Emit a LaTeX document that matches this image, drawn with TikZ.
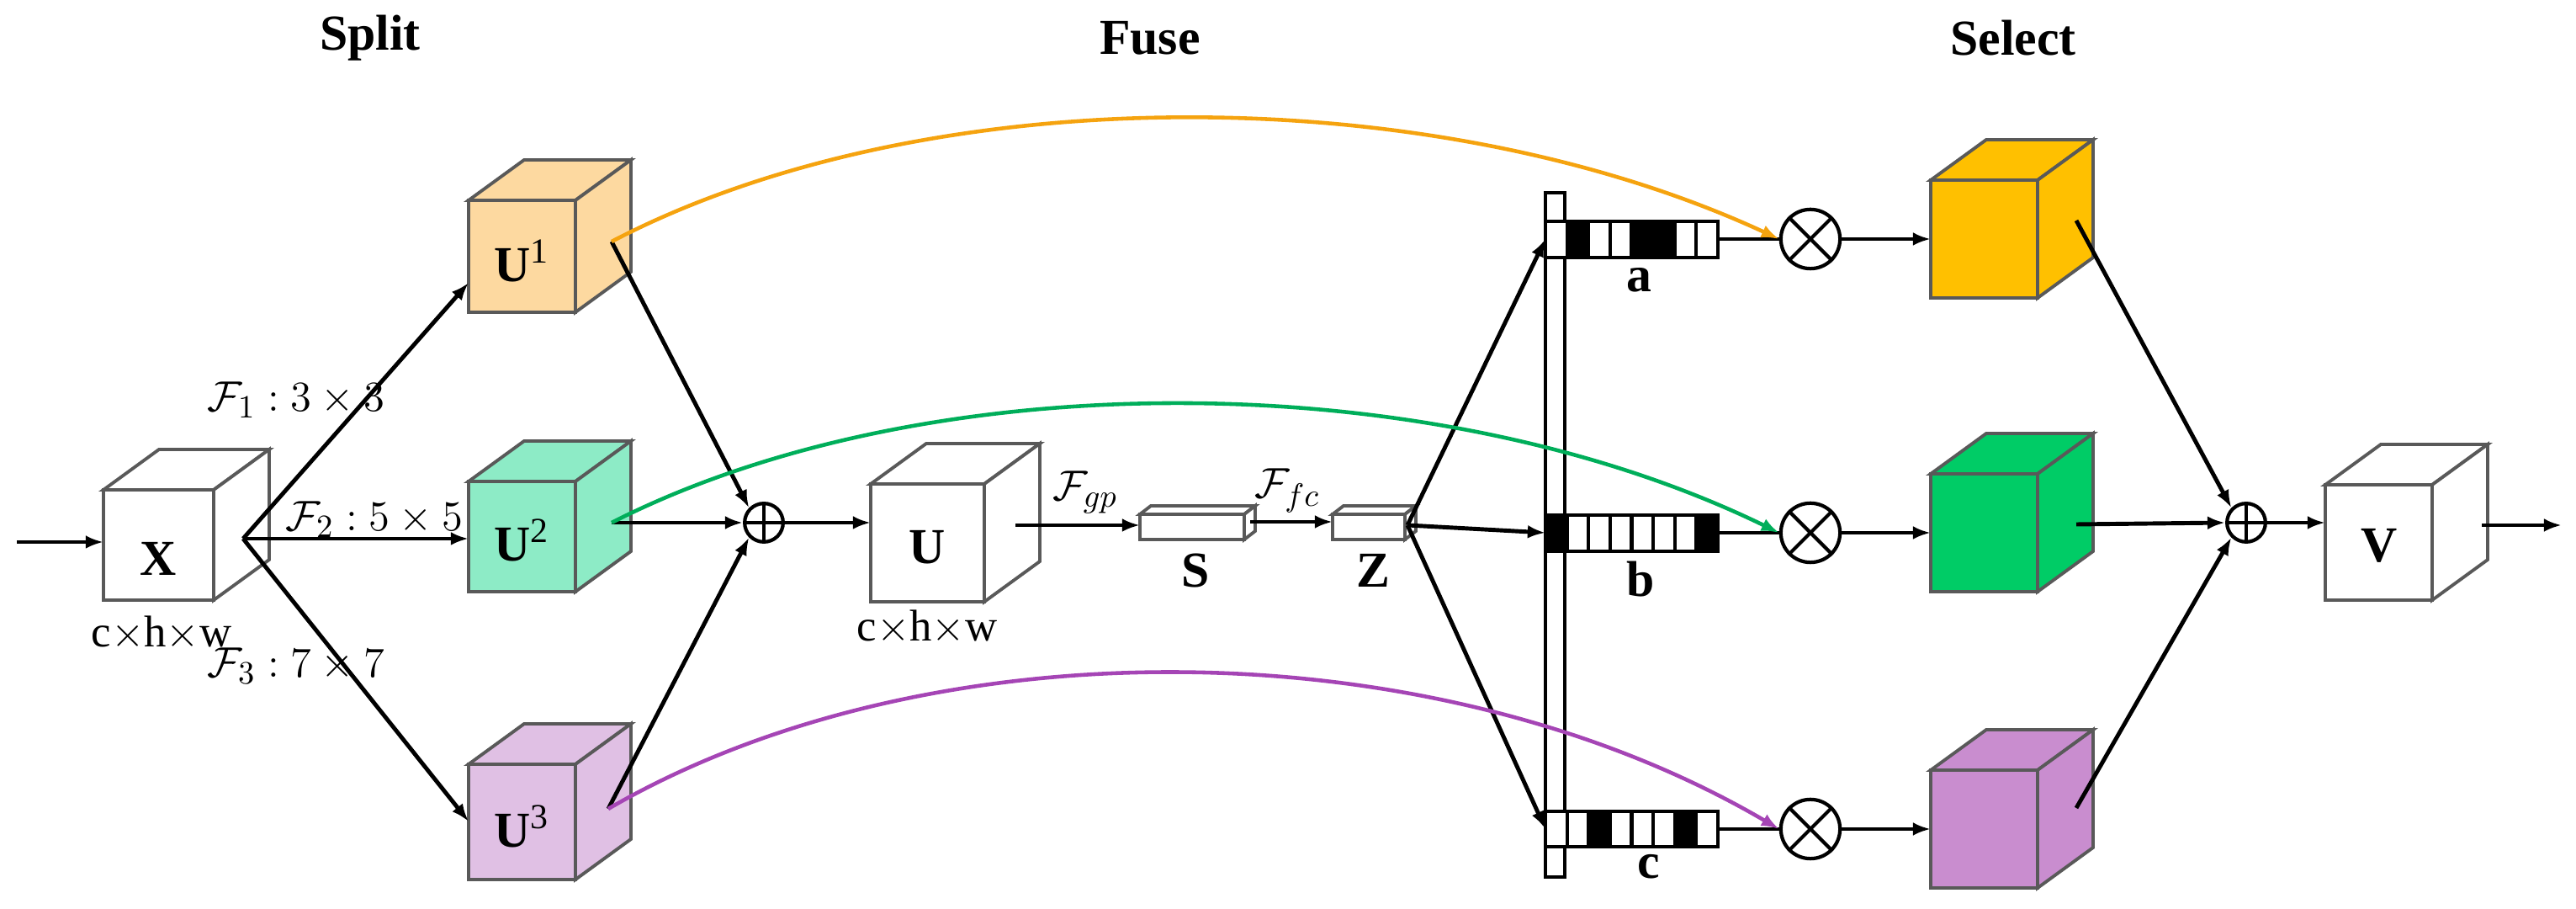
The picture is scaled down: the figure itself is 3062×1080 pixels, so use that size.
\documentclass[tikz,border=0pt]{standalone}
\usepackage{fontspec}
\setmainfont{Liberation Serif}
\usetikzlibrary{arrows.meta}
\definecolor{edge}{HTML}{595959}
\definecolor{cOr}{HTML}{F5A30F}
\definecolor{cGr}{HTML}{00AE5A}
\definecolor{cPu}{HTML}{A545B5}
\definecolor{fOr}{HTML}{FDD9A0}
\definecolor{fGr}{HTML}{8DEBC6}
\definecolor{fPu}{HTML}{E0C0E4}
\definecolor{sOr}{HTML}{FFC000}
\definecolor{sGr}{HTML}{00CC66}
\definecolor{sPu}{HTML}{C98DCF}
\newcommand\mycube[5]{%
  \draw[cubeedge,fill=#5] (#1,#2) rectangle (#3,#4);
  \draw[cubeedge,fill=#5] (#1,#2) -- ++(66,-48) -- ({#3+66},{#2-48}) -- (#3,#2) -- cycle;
  \draw[cubeedge,fill=#5] (#3,#2) -- ({#3+66},{#2-48}) -- ({#3+66},{#4-48}) -- (#3,#4) -- cycle;}
\newcommand\mybar[4]{%
  \draw[cubeedge,fill=white] (#1,#2) rectangle (#3,#4);
  \draw[cubeedge,fill=white] (#1,#2) -- ++(13,-10) -- ({#3+13},{#2-10}) -- (#3,#2) -- cycle;
  \draw[cubeedge,fill=white] (#3,#2) -- ({#3+13},{#2-10}) -- ({#3+13},{#4-10}) -- (#3,#4) -- cycle;}
\newcommand\myvec[3]{%
  \foreach \cc [count=\i from 0] in {#3} {
    \draw[line width=1.2pt,fill=\cc] ({1837+25.6*\i},{#1}) rectangle ({1837+25.6*(\i+1)},{#2});}}
\newcommand\mysup[1]{\textsuperscript{\normalfont #1}}
\begin{document}
\begin{tikzpicture}[x=0.01cm,y=-0.01cm,
  cubeedge/.style={draw=edge,line width=1.1pt,line join=miter},
  arr/.style={line width=1.4pt,-{Latex[length=6pt,width=4.5pt]}},
  ln/.style={line width=1.4pt},
  carr/.style={line width=1.3pt,-{Latex[length=6pt,width=4.5pt]}},
  sumc/.style={circle,draw,line width=1.2pt,minimum size=13pt,inner sep=0pt},
  mulc/.style={circle,draw,line width=1.2pt,minimum size=20pt,inner sep=0pt},
  ttl/.style={font=\bfseries\fontsize{17}{20}\selectfont},
  lbl/.style={font=\fontsize{15}{18}\selectfont},
  cl/.style={font=\bfseries\fontsize{17}{20}\selectfont}]
\useasboundingbox (0,0) rectangle (3062,1080);
% titles
\node[ttl] (t1) at (440,45) {Split};
\node[ttl] (t2) at (1367,45) {Fuse};
\node[ttl] (t3) at (2393,45) {Select};
% X cube
\mycube{123}{582}{254}{713}{white}
\node[cl] (X) at (188,664) {X};
\node[lbl] (xdim) at (192,752) {c$\times$h$\times$w};
\coordinate (in0) at (20,644); \coordinate (xin) at (123,644);
\coordinate (sp) at (289,640);
\draw[arr] (in0) -- (xin);
% U cubes
\mycube{557}{238}{684}{371}{fOr}
\mycube{557}{572}{684}{703}{fGr}
\mycube{557}{908}{684}{1045}{fPu}
\node[cl] (U1) at (620,310) {U\mysup{1}};
\node[cl] (U2) at (620,642) {U\mysup{2}};
\node[cl] (U3) at (620,982) {U\mysup{3}};
\coordinate (u1i) at (557,336); \coordinate (u2i) at (557,640); \coordinate (u3i) at (557,976);
\draw[arr] (sp) -- (u1i);
\draw[arr] (sp) -- (u2i);
\draw[arr] (sp) -- (u3i);
\node[lbl] (f1) at (352,475) {$\mathcal{F}_{1}:3\times 3$};
\node[lbl] (f2) at (445,617) {$\mathcal{F}_{2}:5\times 5$};
\node[lbl] (f3) at (352,791) {$\mathcal{F}_{3}:7\times 7$};
\coordinate (u1o) at (727,287); \coordinate (u2o) at (727,621); \coordinate (u3o) at (723,961);
% sum 1
\node[sumc] (s1) at (908,621) {};
\draw[line width=1.2pt] (s1.north) -- (s1.south) (s1.west) -- (s1.east);
\draw[arr] (u1o) -- (s1.north west);
\draw[arr] (u2o) -- (s1.west);
\draw[arr] (u3o) -- (s1.south west);
% U cube
\mycube{1035}{575}{1170}{715}{white}
\node[cl] (U) at (1102,650) {U};
\node[lbl] (udim) at (1102,745) {c$\times$h$\times$w};
\coordinate (ui) at (1035,621);
\draw[arr] (s1.east) -- (ui);
% S and Z
\mybar{1355}{611}{1479}{641}
\mybar{1584}{611}{1670}{641}
\node[cl] (S) at (1421,678) {S};
\node[cl] (Z) at (1632,678) {Z};
\coordinate (uo) at (1207,624); \coordinate (si) at (1355,624);
\coordinate (so) at (1486,620); \coordinate (zi) at (1584,620);
\draw[arr] (uo) -- (si);
\draw[arr] (so) -- (zi);
\node[lbl] (fgp) at (1290,585) {$\mathcal{F}_{gp}$};
\node[lbl] (ffc) at (1530,583) {$\mathcal{F}_{fc}$};
\coordinate (zo) at (1673,624);
% vertical bar and vectors
\draw[line width=1.2pt,fill=white] (1837,229) rectangle (1860,1042);
\myvec{263}{306}{white,black,white,white,black,black,white,white}
\myvec{612}{655}{black,white,white,white,white,white,white,black}
\myvec{964}{1006}{white,white,black,white,white,white,black,white}
\node[cl] (a) at (1948,333) {a};
\node[cl] (b) at (1950,688) {b};
\node[cl] (c) at (1960,1030) {c};
\coordinate (ai) at (1837,284); \coordinate (bi) at (1837,633); \coordinate (ci) at (1837,985);
\coordinate (ao) at (2042,284); \coordinate (bo) at (2042,633); \coordinate (co) at (2042,985);
\draw[arr] (zo) -- (ai);
\draw[arr] (zo) -- (bi);
\draw[arr] (zo) -- (ci);
% otimes
\foreach \n/\yy in {ma/284,mb/633,mc/985}{
  \node[mulc] (\n) at (2152,\yy) {};
  \draw[line width=1.2pt] (\n.north west) -- (\n.south east) (\n.north east) -- (\n.south west);}
\draw[ln] (ao) -- (ma.west);
\draw[ln] (bo) -- (mb.west);
\draw[ln] (co) -- (mc.west);
% colored curves
\draw[carr,cOr] (u1o) .. controls (1100,92) and (1700,92) .. (ma.west);
\draw[carr,cGr] (u2o) .. controls (1100,431) and (1700,431) .. (mb.west);
\draw[carr,cPu] (u3o) .. controls (1100,742) and (1700,742) .. (mc.west);
% select cubes
\mycube{2295}{214}{2422}{354}{sOr}
\mycube{2295}{563}{2422}{703}{sGr}
\mycube{2295}{915}{2422}{1055}{sPu}
\coordinate (y1i) at (2295,284); \coordinate (y2i) at (2295,633); \coordinate (y3i) at (2295,985);
\draw[arr] (ma.east) -- (y1i);
\draw[arr] (mb.east) -- (y2i);
\draw[arr] (mc.east) -- (y3i);
\coordinate (y1o) at (2468,262); \coordinate (y2o) at (2468,623); \coordinate (y3o) at (2468,960);
% sum 2
\node[sumc] (s2) at (2670,621) {};
\draw[line width=1.2pt] (s2.north) -- (s2.south) (s2.west) -- (s2.east);
\draw[arr] (y1o) -- (s2.north west);
\draw[arr] (y2o) -- (s2.west);
\draw[arr] (y3o) -- (s2.south west);
% V cube
\mycube{2764}{576}{2891}{713}{white}
\node[cl] (V) at (2828,648) {V};
\coordinate (vi) at (2764,621); \coordinate (vo) at (2950,624); \coordinate (vend) at (3045,624);
\draw[arr] (s2.east) -- (vi);
\draw[arr] (vo) -- (vend);
\end{tikzpicture}
\end{document}
